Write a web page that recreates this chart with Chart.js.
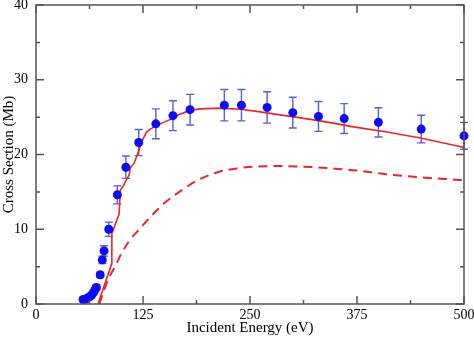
<!DOCTYPE html>
<html>
<head>
<meta charset="utf-8">
<script src="https://cdn.jsdelivr.net/npm/chart.js@4/dist/chart.umd.min.js"></script>
<style>
  html, body { margin: 0; padding: 0; background: #fff; }
  #wrap { width: 474px; height: 337px; position: relative; }
</style>
</head>
<body>
<div id="wrap"><canvas id="c"></canvas></div>
<script>
// Measured data (incident energy in eV, cross section in Mb)
const expEnergy = [55, 58, 60, 63, 65, 67, 69, 70.5, 75, 77.5, 79.5, 85, 95, 105, 120, 140, 160, 180, 220, 240, 270, 300, 330, 360, 400, 450, 500];
const expCross  = [0.6, 0.65, 0.8, 1.0, 1.2, 1.5, 1.9, 2.2, 3.9, 5.9, 7.1, 10.0, 14.6, 18.3, 21.6, 24.1, 25.2, 26.0, 26.6, 26.6, 26.3, 25.6, 25.1, 24.8, 24.3, 23.4, 22.5];
const expError  = [0.2, 0.2, 0.2, 0.2, 0.2, 0.2, 0.25, 0.3, 0.35, 0.5, 0.7, 0.95, 1.2, 1.5, 1.75, 2.0, 2.0, 2.05, 2.1, 2.1, 2.1, 2.05, 2.0, 2.0, 1.95, 1.85, 1.8];

// Theory, solid curve
const solidEnergy = [72.5, 88.4, 88.6, 97, 98.6, 102, 106, 109, 110, 115, 119, 123.5, 129, 135, 145, 157, 168, 180, 192, 215, 239, 262, 285, 309, 332, 371, 410, 449, 494, 500];
const solidCross  = [0, 5.4, 9.4, 12.0, 15.2, 15.8, 16.7, 17.3, 18.2, 18.9, 20.2, 21.7, 23.0, 23.5, 24.1, 24.7, 25.4, 25.9, 26.1, 26.2, 26.05, 25.7, 25.3, 24.9, 24.5, 23.7, 23.0, 22.2, 21.1, 20.95];

// Theory, dashed curve
const dashEnergy = [74, 80, 86, 92.3, 100, 110, 120, 130, 140, 150, 160, 170, 188, 211, 235, 258, 285, 325, 344, 371, 410, 449, 494, 500];
const dashCross  = [0, 2.0, 3.7, 5.0, 6.8, 8.6, 9.9, 11.2, 12.4, 13.5, 14.4, 15.2, 16.5, 17.6, 18.15, 18.4, 18.45, 18.3, 18.15, 17.9, 17.35, 16.95, 16.6, 16.55];

// Tick values
const xMajorTicks = [0, 125, 250, 375, 500];
const xMinorTicks = [62.5, 187.5, 312.5, 437.5];
const yMajorTicks = [0, 10, 20, 30, 40];
const yMinorTicks = [5, 15, 25, 35];

const FONT = "'Liberation Serif', 'Times New Roman', serif";

const toPts = (xs, ys) => xs.map((x, i) => ({ x: x, y: ys[i] }));

const errorBars = {
  id: 'errorBars',
  beforeDatasetsDraw(chart) {
    const ctx = chart.ctx, xs = chart.scales.x, ys = chart.scales.y;
    ctx.save();
    ctx.strokeStyle = '#5b5fd6';
    ctx.lineWidth = 1.4;
    expEnergy.forEach((e, i) => {
      const px = xs.getPixelForValue(e);
      const top = ys.getPixelForValue(expCross[i] + expError[i]);
      const bot = ys.getPixelForValue(expCross[i] - expError[i]);
      ctx.beginPath();
      ctx.moveTo(px, top); ctx.lineTo(px, bot);
      ctx.moveTo(px - 4, top); ctx.lineTo(px + 4, top);
      ctx.moveTo(px - 4, bot); ctx.lineTo(px + 4, bot);
      ctx.stroke();
    });
    ctx.restore();
  }
};

const frame = {
  id: 'frame',
  afterDraw(chart) {
    const ctx = chart.ctx, a = chart.chartArea, xs = chart.scales.x, ys = chart.scales.y;
    ctx.save();
    ctx.strokeStyle = '#555555';
    ctx.lineWidth = 1.5;
    ctx.beginPath();
    const tick = (vals, len) => {
      vals.forEach(v => {
        const px = xs.getPixelForValue(v);
        ctx.moveTo(px, a.bottom); ctx.lineTo(px, a.bottom - len);
        ctx.moveTo(px, a.top); ctx.lineTo(px, a.top + len);
      });
    };
    const ytick = (vals, len) => {
      vals.forEach(v => {
        const py = ys.getPixelForValue(v);
        ctx.moveTo(a.left, py); ctx.lineTo(a.left + len, py);
        ctx.moveTo(a.right, py); ctx.lineTo(a.right - len, py);
      });
    };
    tick(xMajorTicks, 8); tick(xMinorTicks, 4);
    ytick(yMajorTicks, 8); ytick(yMinorTicks, 4);
    ctx.stroke();
    ctx.strokeRect(a.left, a.top, a.right - a.left, a.bottom - a.top);
    ctx.restore();
  }
};

new Chart(document.getElementById('c'), {
  type: 'scatter',
  data: {
    datasets: [
      {
        label: 'Experiment',
        data: toPts(expEnergy, expCross),
        showLine: false,
        pointRadius: 4.5,
        pointBackgroundColor: '#0b0bf5',
        pointBorderWidth: 0,
        clip: false,
        order: 0
      },
      {
        label: 'Theory',
        data: toPts(solidEnergy, solidCross),
        showLine: true,
        pointRadius: 0,
        borderColor: '#e8262b',
        borderWidth: 1.6,
        tension: 0,
        clip: false,
        order: 1
      },
      {
        label: 'Theory (dashed)',
        data: toPts(dashEnergy, dashCross),
        showLine: true,
        pointRadius: 0,
        borderColor: '#e8262b',
        borderWidth: 2,
        borderDash: [9, 6],
        cubicInterpolationMode: 'monotone',
        clip: false,
        order: 2
      }
    ]
  },
  options: {
    responsive: true,
    maintainAspectRatio: false,
    animation: false,
    layout: { padding: { top: 5, right: 10, left: 0, bottom: 0 } },
    plugins: { legend: { display: false }, tooltip: { enabled: false } },
    scales: {
      x: {
        type: 'linear', min: 0, max: 500,
        afterBuildTicks: s => { s.ticks = xMajorTicks.map(v => ({ value: v })); },
        afterFit: s => { s.height = 33; s.paddingLeft = 0; s.paddingRight = 0; },
        grid: { display: false, drawTicks: false, tickLength: 0 },
        border: { display: false },
        ticks: { color: '#000', font: { family: FONT, size: 14 }, padding: 3, maxRotation: 0 },
        title: { display: true, text: 'Incident Energy (eV)', color: '#000', font: { family: FONT, size: 15 }, padding: { top: 0, bottom: 0 } }
      },
      y: {
        type: 'linear', min: 0, max: 40,
        afterBuildTicks: s => { s.ticks = yMajorTicks.map(v => ({ value: v })); },
        afterFit: s => { s.width = 36; s.paddingTop = 0; s.paddingBottom = 0; },
        grid: { display: false, drawTicks: false, tickLength: 0 },
        border: { display: false },
        ticks: { color: '#000', font: { family: FONT, size: 14 }, padding: 8 },
        title: { display: true, text: 'Cross Section (Mb)', color: '#000', font: { family: FONT, size: 15 }, padding: 0 }
      }
    }
  },
  plugins: [errorBars, frame]
});
</script>
</body>
</html>
